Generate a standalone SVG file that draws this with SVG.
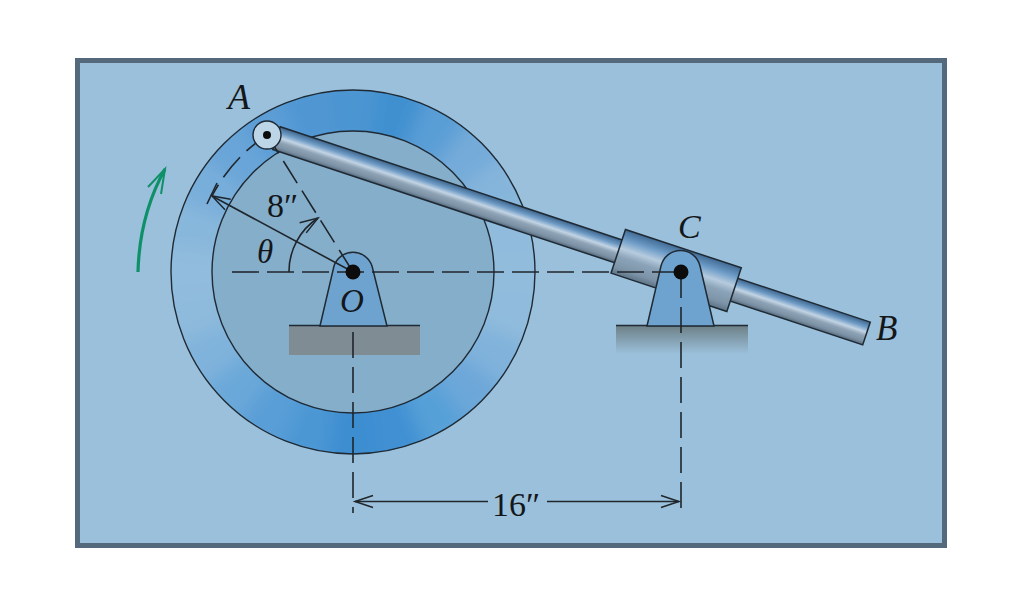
<svg xmlns="http://www.w3.org/2000/svg" width="1024" height="610" viewBox="0 0 1024 610">
<style>
.ln{fill:none;stroke:#1f262c;stroke-width:1.6}
.dash{fill:none;stroke:#1f262c;stroke-width:1.6;stroke-dasharray:26 9}
.edge{stroke:#1f2a34;stroke-width:1.5}
.lbl{font-family:"Liberation Serif",serif;fill:#14171a}
.it{font-style:italic}
.sup{fill:#6fa3cf;stroke:#1f2a34;stroke-width:1.5}
.sec{fill:none;stroke-width:76;stroke-dasharray:1.05 22.95}
</style>
<defs>
<linearGradient id="steel" x1="0" y1="0" x2="0" y2="1">
<stop offset="0" stop-color="#3d658c"/>
<stop offset=".25" stop-color="#6f9cc6"/>
<stop offset=".45" stop-color="#c2d4e4"/>
<stop offset=".62" stop-color="#8ea3b6"/>
<stop offset=".85" stop-color="#7b90a3"/>
<stop offset="1" stop-color="#52687c"/>
</linearGradient>
<linearGradient id="collar" x1="0" y1="0" x2="0" y2="1">
<stop offset="0" stop-color="#3f6a94"/>
<stop offset=".22" stop-color="#6f9dc8"/>
<stop offset=".42" stop-color="#b6cbde"/>
<stop offset=".6" stop-color="#8ba3b8"/>
<stop offset=".85" stop-color="#7d94a8"/>
<stop offset="1" stop-color="#5d7488"/>
</linearGradient>
<linearGradient id="baseC" x1="0" y1="0" x2="0" y2="1">
<stop offset="0" stop-color="#6e8188"/>
<stop offset="1" stop-color="#9bc0db"/>
</linearGradient>
<marker id="open" markerUnits="userSpaceOnUse" markerWidth="24" markerHeight="16" refX="21" refY="8" orient="auto">
<path d="M3,2 L21,8 L3,14" fill="none" stroke="#1f262c" stroke-width="1.5"/>
</marker>
<circle id="s" cx="353" cy="272" r="161.500" pathLength="24" class="sec"/>
<clipPath id="disc"><circle cx="353" cy="272" r="182"/></clipPath>
<filter id="soft" x="-10%" y="-10%" width="120%" height="120%"><feGaussianBlur stdDeviation="9"/></filter>
</defs>

<rect id="frame" x="77.5" y="60.5" width="867" height="485" fill="#9bc0db" stroke="#54697c" stroke-width="5"/>

<g id="flywheel">
<g clip-path="url(#disc)">
<g filter="url(#soft)">
<use href="#s" stroke="#4b95d2" transform="rotate(-97.5 353 272)"/>
<use href="#s" stroke="#4090d0" transform="rotate(-82.5 353 272)"/>
<use href="#s" stroke="#5a9ed6" transform="rotate(-67.5 353 272)"/>
<use href="#s" stroke="#74abd9" transform="rotate(-52.5 353 272)"/>
<use href="#s" stroke="#86b5db" transform="rotate(-37.5 353 272)"/>
<use href="#s" stroke="#90bbdc" transform="rotate(-22.5 353 272)"/>
<use href="#s" stroke="#92bcdc" transform="rotate(-7.5 353 272)"/>
<use href="#s" stroke="#90bbdc" transform="rotate(7.5 353 272)"/>
<use href="#s" stroke="#80b2db" transform="rotate(22.5 353 272)"/>
<use href="#s" stroke="#6da7d9" transform="rotate(37.5 353 272)"/>
<use href="#s" stroke="#56a0d8" transform="rotate(52.5 353 272)"/>
<use href="#s" stroke="#3f90d3" transform="rotate(67.5 353 272)"/>
<use href="#s" stroke="#3d8dd1" transform="rotate(82.5 353 272)"/>
<use href="#s" stroke="#4b97d4" transform="rotate(97.5 353 272)"/>
<use href="#s" stroke="#5a9ed7" transform="rotate(112.5 353 272)"/>
<use href="#s" stroke="#6ba8d9" transform="rotate(127.5 353 272)"/>
<use href="#s" stroke="#80b3db" transform="rotate(142.5 353 272)"/>
<use href="#s" stroke="#8ebadc" transform="rotate(157.5 353 272)"/>
<use href="#s" stroke="#92bcdd" transform="rotate(172.5 353 272)"/>
<use href="#s" stroke="#88b7dc" transform="rotate(187.5 353 272)"/>
<use href="#s" stroke="#78aeda" transform="rotate(202.5 353 272)"/>
<use href="#s" stroke="#69a5d8" transform="rotate(217.5 353 272)"/>
<use href="#s" stroke="#5b9dd6" transform="rotate(232.5 353 272)"/>
<use href="#s" stroke="#5096d3" transform="rotate(247.5 353 272)"/>
</g>
</g>
<circle cx="353" cy="272" r="182" fill="none" stroke="#1f2a34" stroke-width="1.4"/>
<circle cx="353" cy="272" r="141" fill="#85aecb" stroke="#1f2a34" stroke-width="1.4"/>
</g>

<g id="rod-AB" transform="translate(267 135) rotate(18.32)">
<rect x="10" y="-12" width="621.5" height="24" fill="url(#steel)" class="edge"/>
</g>

<g id="collar-C" transform="translate(267 135) rotate(18.32)">
<rect x="370" y="-23" width="122" height="46" fill="url(#collar)" class="edge"/>
</g>

<g id="support-O">
<rect x="289" y="326" width="131" height="29" fill="#808c94"/>
<path d="M289,325.500H420" class="edge"/>
<path d="M320,326 L334,266 A20,20 0 0 1 372,266 L387,326 Z" class="sup"/>
</g>

<g id="support-C">
<rect x="616" y="326" width="132" height="28" fill="url(#baseC)"/>
<path d="M616,325.500H748" class="edge"/>
<path d="M647,326 L661,266 A20,20 0 0 1 700,266 L714,326 Z" class="sup"/>
</g>

<g id="connectors">
<path class="dash" d="M232,272H681" style="stroke-dasharray:27 8"/>
<path class="dash" d="M353,272L267,135"/>
<path class="dash" d="M267,135A162,162 0 0 0 212,196"/>
<path class="ln" d="M217,183L207,204"/>
<path class="ln" d="M353,272L212,196" marker-end="url(#open)"/>
<path class="ln" d="M289,272A64,64 0 0 1 318,218" marker-end="url(#open)"/>
<path class="dash" d="M353,332V513"/>
<path class="dash" d="M681,272V513"/>
<path class="ln" d="M488,501.500H355" marker-end="url(#open)"/>
<path class="ln" d="M547,501.500H679" marker-end="url(#open)"/>
<path d="M138,272C139,232 149,198 165,169" fill="none" stroke="#0e9068" stroke-width="3.200"/>
<path d="M148,187L165,169L161,194" fill="none" stroke="#0e9068" stroke-width="2"/>
</g>

<g id="pin-A">
<circle cx="267" cy="135" r="14" fill="#bcd6e8" stroke="#1f2a34" stroke-width="1.4"/>
<circle cx="267" cy="135" r="4" fill="#0c0c0c"/>
</g>
<g id="pin-O"><circle cx="353" cy="272" r="7.500" fill="#0c0c0c"/></g>
<g id="pin-C"><circle cx="681" cy="272" r="7.500" fill="#0c0c0c"/></g>

<g id="labels">
<text class="lbl it" x="228" y="109" font-size="36">A</text>
<text class="lbl it" x="678" y="238" font-size="34">C</text>
<text class="lbl it" x="876" y="340" font-size="35">B</text>
<text class="lbl it" x="340" y="312" font-size="33">O</text>
<text class="lbl it" x="257" y="263" font-size="33">θ</text>
<text class="lbl" x="267" y="217" font-size="34">8″</text>
<text class="lbl" x="492" y="516" font-size="34">16″</text>
</g>
</svg>
